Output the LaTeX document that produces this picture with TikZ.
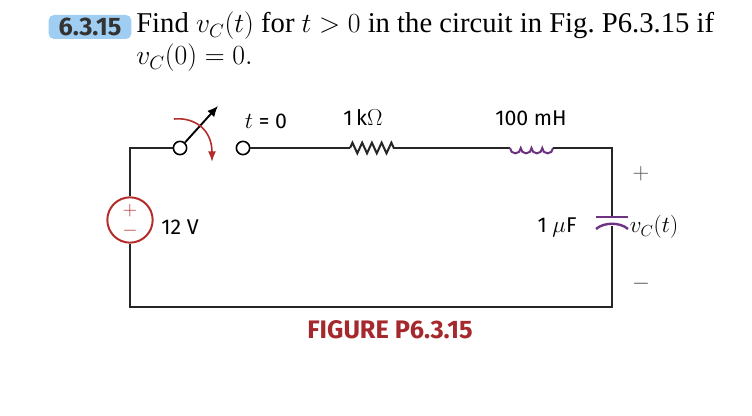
\documentclass[tikz,border=0pt]{standalone}
\usepackage{fontspec}
\setmainfont{Liberation Serif}
\setsansfont{Fira Sans}
\usetikzlibrary{arrows.meta,decorations.pathmorphing}
\definecolor{srcred}{RGB}{180,45,45}
\definecolor{ind}{RGB}{110,50,130}
\definecolor{hl}{RGB}{160,205,242}
\definecolor{figred}{RGB}{165,40,45}
\tikzset{wire/.style={line width=1.5pt,black!85},
 lbl/.style={font=\sffamily\fontsize{16}{18}\selectfont,inner sep=0},
 term/.style={circle,draw,line width=1.2pt,fill=white,minimum size=10pt,inner sep=0}}
\begin{document}
\begin{tikzpicture}[x=0.75pt,y=-0.75pt]
\useasboundingbox (0,0) rectangle (752,416);
% header
\node[fill=hl,rounded corners=4pt,minimum width=62pt,minimum height=18pt,inner sep=1pt,font=\sffamily\bfseries\fontsize{19}{20}\selectfont,text=black!80] (num) at (90,27) {6.3.15};
\node[anchor=west,inner sep=0,font=\fontsize{21.5}{23}\selectfont] (l1) at (136,26) {Find $v_C(t)$ for $t>0$ in the circuit in Fig.\ P6.3.15 if};
\node[anchor=west,inner sep=0,font=\fontsize{21.5}{23}\selectfont] (l2) at (136,58) {$v_C(0)=0.$};
% corners
\coordinate (tl) at (130,148); \coordinate (tr) at (612,148);
\coordinate (bl) at (130,307); \coordinate (br) at (612,307);
\node[circle,draw=srcred,line width=1.5pt,minimum size=34pt,inner sep=0] (src) at (130,220) {};
\node[text=srcred,font=\fontsize{15}{15}\selectfont,inner sep=0] (pl) at (130,211) {$+$};
\node[text=srcred,font=\fontsize{15}{15}\selectfont,inner sep=0] (mi) at (130,231) {$-$};
\node[term] (s1) at (180,148) {};
\node[term] (s2) at (243,148) {};
\coordinate (r1) at (350,148); \coordinate (r2) at (394,148);
\coordinate (i1) at (510,148); \coordinate (i2) at (553,148);
\coordinate (c1) at (612,217); \coordinate (c2) at (612,226);
\draw[wire] (src.north) -- (tl) -- (s1.west);
\draw[wire] (s2.east) -- (r1);
\draw[wire,decorate,decoration={zigzag,segment length=7.3pt,amplitude=4pt,pre length=0pt,post length=0pt}] (r1) -- (r2);
\draw[wire] (r2) -- (i1);
\draw[line width=1.5pt,ind] (i1) \foreach \k in {0,1,2,3} {arc[start angle=180,end angle=0,radius=5.375]};
\draw[wire] (i2) -- (tr) -- (c1);
\draw[wire] (c2) -- (br) -- (bl) -- (src.south);
\draw[line width=1.8pt,ind] (596,217) -- (628,217);
\draw[line width=1.8pt,ind] (596,229) .. controls (604,222) and (620,222) .. (628,229);
% switch
\coordinate (arm) at (218,106);
\draw[line width=1.4pt,-{Latex[length=8pt,width=7pt]}] (s1) -- (arm);
\draw[srcred,line width=1.2pt,-{Latex[length=8pt,width=6pt]}] (174,119) .. controls (195,117) and (212,130) .. (212,162);
% labels
\node[lbl] (tz) at (266,121) {$t$ = 0};
\node[lbl] (rl) at (363,118) {1\,k$\Omega$};
\node[lbl] (il) at (531,118) {100 mH};
\node[lbl] (vl) at (180,227) {12 V};
\node[lbl] (cl) at (557,227) {1 $\mu$F};
\node[inner sep=0,font=\fontsize{17}{19}\selectfont] (vc) at (654,227) {$v_C(t)$};
\node[inner sep=0,font=\fontsize{16}{16}\selectfont,text=black!70] (pp) at (641,174) {$+$};
\node[inner sep=0,font=\fontsize{16}{16}\selectfont,text=black!70] (mm) at (641,284) {$-$};
\node[inner sep=0,font=\sffamily\bfseries\fontsize{19}{20}\selectfont,text=figred] (fig) at (390,330) {FIGURE P6.3.15};
\end{tikzpicture}
\end{document}
